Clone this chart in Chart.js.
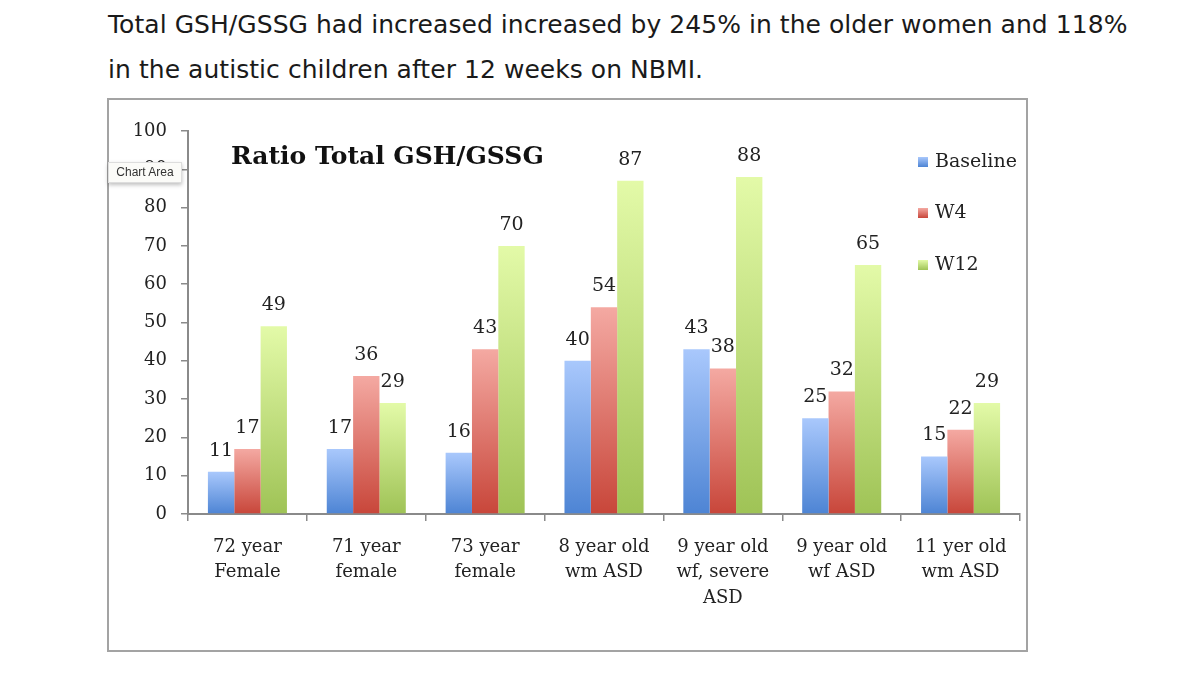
<!DOCTYPE html>
<html>
<head>
<meta charset="utf-8">
<script src="https://cdn.jsdelivr.net/npm/chart.js@4.4.1/dist/chart.umd.min.js"></script>
<style>
  body { margin: 0; background: #fff; width: 1200px; height: 686px; position: relative; overflow: hidden; }
  .head { position: absolute; left: 108px; font-family: "DejaVu Sans", sans-serif; font-size: 25px; letter-spacing: 0.05px; color: #1a1a1a; white-space: nowrap; }
  #box { position: absolute; left: 107px; top: 98px; width: 917px; height: 550px; border: 2px solid #a3a3a3; }
  #tip { position: absolute; left: 108px; top: 162px; width: 72px; height: 19px; background: #fbfbf8; border: 1px solid #ddd;
         box-shadow: 0 2px 4px rgba(0,0,0,0.25); font: 12px "Liberation Sans", sans-serif; color: #333; line-height: 19px; text-align: center; }
</style>
</head>
<body>
<div class="head" style="top:10px">Total GSH/GSSG had increased increased by 245% in the older women and 118%</div>
<div class="head" style="top:55px">in the autistic children after 12 weeks on NBMI.</div>
<div id="box"><canvas id="gshChart" width="917" height="550"></canvas></div>
<div id="tip">Chart Area</div>
<script>
// Data
const groups = [
  ["72 year", "Female"],
  ["71 year", "female"],
  ["73 year", "female"],
  ["8 year old", "wm ASD"],
  ["9 year old", "wf, severe", "ASD"],
  ["9 year old", "wf ASD"],
  ["11 yer old", "wm ASD"]
];
const baseline = [11, 17, 16, 40, 43, 25, 15];
const week4 = [17, 36, 43, 54, 38, 32, 22];
const week12 = [49, 29, 70, 87, 88, 65, 29];

const chartTitle = "Ratio Total GSH/GSSG";

// light top / dark bottom, like the Excel bars
const shades = {
  Baseline: ["#a9c8fc", "#4d84d4"],
  W4: ["#f4a9a2", "#c8463a"],
  W12: ["#e3faa8", "#9fc356"]
};

function barFill(ctx) {
  const name = ctx.dataset.label;
  const chart = ctx.chart;
  const y = chart.scales.y;
  if (!chart.chartArea || !y || ctx.raw == null) return shades[name][1];
  const top = y.getPixelForValue(ctx.raw);
  const bottom = y.getPixelForValue(0);
  const g = chart.ctx.createLinearGradient(0, top, 0, bottom);
  g.addColorStop(0, shades[name][0]);
  g.addColorStop(1, shades[name][1]);
  return g;
}

const serif = "'DejaVu Serif', serif";

// title, legend and value labels drawn like the Excel chart
const extras = {
  id: "extras",
  afterDatasetsDraw(chart) {
    const c = chart.ctx;
    c.save();
    c.fillStyle = "#111";
    c.font = "bold 25px " + serif;
    c.textAlign = "left";
    c.textBaseline = "middle";
    c.fillText(chartTitle, 122, 57);

    // value labels
    c.font = "19px " + serif;
    c.fillStyle = "#222";
    c.textAlign = "center";
    chart.data.datasets.forEach((ds, i) => {
      chart.getDatasetMeta(i).data.forEach((bar, j) => {
        c.fillText(String(ds.data[j]), bar.x, bar.y - 21);
      });
    });

    // legend
    const ly = [62, 113, 165];
    chart.data.datasets.forEach((ds, i) => {
      const g = c.createLinearGradient(0, ly[i] - 5, 0, ly[i] + 5);
      g.addColorStop(0, shades[ds.label][0]);
      g.addColorStop(1, shades[ds.label][1]);
      c.fillStyle = g;
      c.fillRect(809, ly[i] - 5, 10, 10);
      c.fillStyle = "#222";
      c.textAlign = "left";
      c.fillText(ds.label, 826, ly[i]);
    });
    c.restore();
  }
};

new Chart(document.getElementById("gshChart"), {
  type: "bar",
  data: {
    labels: groups,
    datasets: [
      { label: "Baseline", data: baseline, backgroundColor: barFill },
      { label: "W4", data: week4, backgroundColor: barFill },
      { label: "W12", data: week12, backgroundColor: barFill }
    ]
  },
  options: {
    responsive: false,
    animation: false,
    layout: { padding: { top: 31, right: 6, left: 0, bottom: 0 } },
    datasets: { bar: { barPercentage: 1, categoryPercentage: 0.665 } },
    plugins: { legend: { display: false }, tooltip: { enabled: false }, title: { display: false } },
    scales: {
      x: {
        grid: { drawOnChartArea: false, offset: true, tickLength: 7, color: "#8a8a8a", lineWidth: 1.5 },
        border: { color: "#8a8a8a", width: 2 },
        ticks: { color: "#222", font: { family: serif, size: 18, lineHeight: 1.4 }, padding: 14, maxRotation: 0, autoSkip: false },
        afterFit(scale) { scale.height = 136; }
      },
      y: {
        min: 0,
        max: 100,
        grid: { drawOnChartArea: false, tickLength: 7, color: "#8a8a8a", lineWidth: 1.5 },
        border: { color: "#8a8a8a", width: 2 },
        ticks: { stepSize: 10, color: "#222", font: { family: serif, size: 18 }, padding: 14 },
        afterFit(scale) { scale.width = 79; }
      }
    }
  },
  plugins: [extras]
});
</script>
</body>
</html>
